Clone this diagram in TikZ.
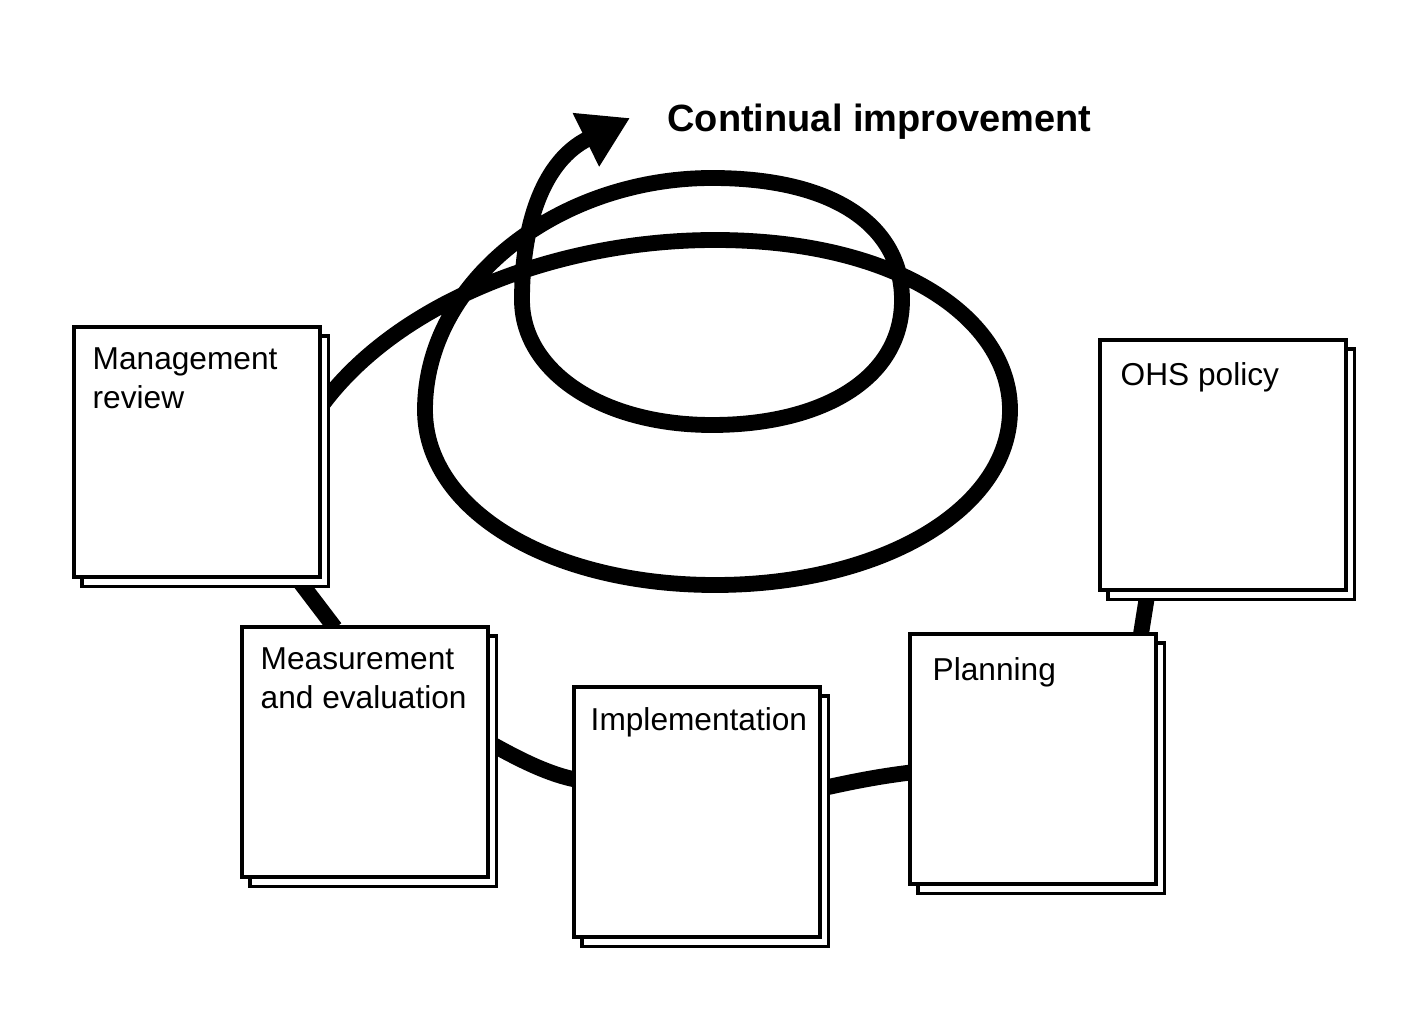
\documentclass[tikz,border=0pt]{standalone}
\usepackage{fontspec}
\setmainfont{Liberation Sans}
\usetikzlibrary{calc,shadows,arrows.meta}
\tikzstyle{sheet} = [rectangle, draw, line width=1.2pt, fill=white, minimum width=2.46cm, minimum height=2.5cm, copy shadow={shadow xshift=0.08cm, shadow yshift=-0.09cm, draw, line width=1pt, fill=white}]
\tikzstyle{tag} = [anchor=north west, align=left, font=\fontsize{9}{11}\selectfont, inner sep=0pt]
\tikzstyle{band} = [line width=4.5pt, line cap=butt]
\begin{document}
\begin{tikzpicture}[x=0.01cm, y=-0.01cm]
    \useasboundingbox (0,0) rectangle (1404,1013);
    % ring between the sheets
    \draw [band] (1148,590) -- (1140,640);
    \draw [band] (915,772) .. controls (880,776) and (850,782) .. (815,790);
    \draw [band] (578,780) .. controls (550,775) and (520,760) .. (488,742);
    \draw [band] (335,628) -- (300,582);
    % spiral
    \draw [band, -{Triangle[length=14pt,width=16pt]}] (322,405) .. controls (400,300) and (560,240) .. (715,240)
        .. controls (900,240) and (1010,320) .. (1010,410)
        .. controls (1010,510) and (880,585) .. (715,585)
        .. controls (550,585) and (425,510) .. (425,410)
        .. controls (425,280) and (560,178) .. (712,178)
        .. controls (840,178) and (902,230) .. (902,300)
        .. controls (902,380) and (820,425) .. (712,425)
        .. controls (600,425) and (522,370) .. (522,300)
        .. controls (522,220) and (545,160) .. (630,118);
    \node (title) [anchor=west, font=\fontsize{10.8}{13}\selectfont\bfseries] at (655,122) {Continual improvement};
    % sheets
    \node (review) [sheet, anchor=north west] at (72,325) {};
    \node (measure) [sheet, anchor=north west] at (240,625) {};
    \node (implement) [sheet, anchor=north west] at (572,685) {};
    \node (plan) [sheet, anchor=north west] at (908,632) {};
    \node (policy) [sheet, anchor=north west] at (1098,338) {};
    \node (review-text) [tag] at (92,347) {Management\\review};
    \node (measure-text) [tag] at (260,647) {Measurement\\and evaluation};
    \node (implement-text) [tag] at (590,707) {Implementation};
    \node (plan-text) [tag] at (932,657) {Planning};
    \node (policy-text) [tag] at (1120,362) {OHS policy};
\end{tikzpicture}
\end{document}
